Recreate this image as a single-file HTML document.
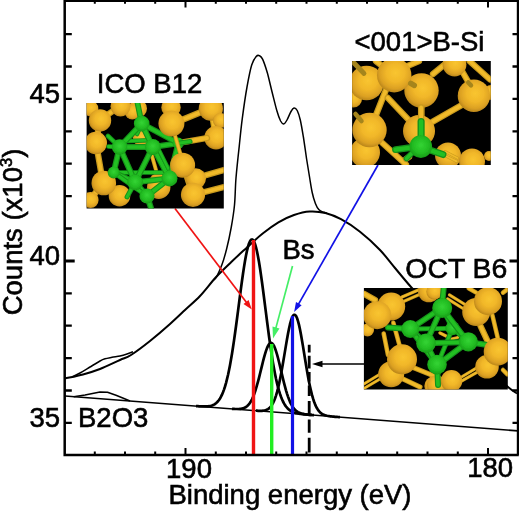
<!DOCTYPE html>
<html><head><meta charset="utf-8"><title>XPS B1s spectrum</title>
<style>html,body{margin:0;padding:0;background:#fff}svg{display:block}</style></head>
<body>
<svg width="520" height="511" viewBox="0 0 520 511" font-family="'Liberation Sans', sans-serif">
<defs>
<radialGradient id="gY" cx="0.54" cy="0.43" r="0.64">
<stop offset="0" stop-color="#f9c530"/><stop offset="0.42" stop-color="#f1b729"/><stop offset="0.72" stop-color="#dca123"/><stop offset="0.9" stop-color="#ba861b"/><stop offset="1" stop-color="#8c6611"/></radialGradient>
<radialGradient id="gG" cx="0.5" cy="0.44" r="0.64">
<stop offset="0" stop-color="#34d434"/><stop offset="0.55" stop-color="#22bc22"/><stop offset="0.88" stop-color="#179a17"/><stop offset="1" stop-color="#0d6a0d"/></radialGradient>
<radialGradient id="gG2" cx="0.42" cy="0.38" r="0.72">
<stop offset="0" stop-color="#3ad43a"/><stop offset="0.6" stop-color="#28bc28"/><stop offset="1" stop-color="#158015"/></radialGradient>
<filter id="blur" x="-5%" y="-5%" width="110%" height="110%"><feGaussianBlur stdDeviation="0.7"/></filter>
</defs>
<rect width="520" height="511" fill="#fff"/>
<path d="M65.0,396.0 L518.0,430.9" fill="none" stroke="#000" stroke-width="1.6"/>
<path d="M73.7,396.7 L85.0,394.9 L100.0,392.1 L107.5,392.3 L116.0,395.3 L124.0,398.5 L130.0,401.0" fill="none" stroke="#000" stroke-width="1.5" stroke-linejoin="round"/>
<path d="M65.0,378.5 C68.0,377.8 77.2,376.1 83.0,374.5 C88.8,372.9 93.8,371.4 100.0,369.0 C106.2,366.6 114.8,362.3 120.0,360.0 C125.2,357.7 126.0,358.2 131.0,355.0 C136.0,351.8 143.5,346.2 150.0,341.0 C156.5,335.8 164.2,329.2 170.0,324.0 C175.8,318.8 180.0,314.7 185.0,310.0 C190.0,305.3 194.9,301.4 200.0,296.0 C205.1,290.6 210.5,283.2 215.7,277.5 C220.9,271.8 226.1,267.0 231.3,262.0 C236.5,257.0 241.8,252.2 247.0,247.4 C252.2,242.7 257.5,237.7 262.7,233.5 C267.9,229.3 273.2,225.4 278.4,222.3 C283.6,219.2 288.8,216.8 294.0,215.0 C299.2,213.2 304.5,211.8 309.7,211.5 C314.9,211.2 320.2,211.7 325.4,213.0 C330.6,214.3 335.2,216.1 341.0,219.2 C346.8,222.3 353.5,226.6 360.0,231.7 C366.5,236.8 374.2,243.9 380.0,250.0 C385.8,256.1 389.8,261.8 395.0,268.0 C400.2,274.2 405.2,280.5 411.0,287.0 C416.8,293.5 423.5,300.2 430.0,307.0 C436.5,313.8 443.3,321.0 450.0,328.0 C456.7,335.0 463.3,342.1 470.0,349.0 C476.7,355.9 483.7,363.2 490.0,369.5 C496.3,375.8 503.5,383.0 508.0,387.0 C512.5,391.0 515.5,392.4 517.0,393.5" fill="none" stroke="#000" stroke-width="2"/>
<path d="M72.0,376.8 C73.3,376.2 77.0,374.6 80.0,373.0 C83.0,371.4 86.7,369.0 90.0,367.0 C93.3,365.0 97.5,362.4 100.0,361.0 C102.5,359.6 103.0,359.4 105.0,358.8 C107.0,358.2 109.5,357.8 112.0,357.3 C114.5,356.8 117.5,356.6 120.0,356.0 C122.5,355.4 124.8,354.7 127.0,354.0 C129.2,353.3 132.0,352.2 133.0,351.8" fill="none" stroke="#000" stroke-width="1.5"/>
<path d="M214.0,280.0 C214.5,279.3 215.9,278.2 217.2,275.6 C218.5,273.0 220.4,269.0 222.0,264.6 C223.6,260.2 225.0,255.3 226.6,249.0 C228.2,242.7 230.0,234.3 231.3,227.0 C232.6,219.7 233.7,213.2 234.5,205.0 C235.3,196.8 235.2,187.7 236.0,178.0 C236.8,168.3 238.1,156.5 239.2,146.6 C240.2,136.7 241.0,128.3 242.3,118.4 C243.6,108.5 245.4,95.9 247.0,87.0 C248.6,78.1 250.1,70.1 251.7,65.0 C253.3,59.9 255.1,57.8 256.4,56.3 C257.7,54.8 258.4,55.2 259.5,55.7 C260.6,56.2 261.4,56.5 262.7,59.4 C264.0,62.3 265.8,67.6 267.4,73.0 C268.9,78.4 270.4,85.5 272.0,91.7 C273.6,98.0 275.4,105.6 276.8,110.5 C278.2,115.4 279.5,118.8 280.6,121.0 C281.8,123.2 282.6,124.2 283.7,124.0 C284.8,123.8 285.8,122.1 287.0,120.0 C288.2,117.9 289.8,113.5 291.0,111.5 C292.2,109.5 293.0,108.2 294.0,108.0 C295.0,107.8 296.1,108.5 297.2,110.5 C298.2,112.5 299.3,115.6 300.3,120.0 C301.3,124.4 302.3,130.5 303.4,137.0 C304.4,143.5 305.6,152.2 306.6,159.0 C307.7,165.8 308.8,172.4 309.7,178.0 C310.6,183.6 311.2,188.2 312.2,192.5 C313.1,196.8 314.3,200.6 315.4,203.5 C316.5,206.4 317.6,208.3 319.0,209.8 C320.4,211.3 322.5,211.7 323.8,212.3 C325.1,212.9 326.5,213.1 327.0,213.3" fill="none" stroke="#000" stroke-width="1.5"/>
<path d="M196.0,406.1 L197.0,406.1 L198.0,406.2 L199.0,406.3 L200.0,406.3 L201.0,406.4 L202.0,406.4 L203.0,406.4 L204.0,406.4 L205.0,406.4 L206.0,406.4 L207.0,406.4 L208.0,406.3 L209.0,406.2 L210.0,406.0 L211.0,405.8 L212.0,405.5 L213.0,405.1 L214.0,404.6 L215.0,404.0 L216.0,403.2 L217.0,402.3 L218.0,401.3 L219.0,400.0 L220.0,398.5 L221.0,396.7 L222.0,394.7 L223.0,392.3 L224.0,389.6 L225.0,386.5 L226.0,383.1 L227.0,379.2 L228.0,375.0 L229.0,370.3 L230.0,365.2 L231.0,359.6 L232.0,353.7 L233.0,347.3 L234.0,340.6 L235.0,333.5 L236.0,326.2 L237.0,318.7 L238.0,311.1 L239.0,303.3 L240.0,295.7 L241.0,288.1 L242.0,280.7 L243.0,273.7 L244.0,267.1 L245.0,261.0 L246.0,255.5 L247.0,250.7 L248.0,246.7 L249.0,243.5 L250.0,241.2 L251.0,239.8 L252.0,239.4 L253.0,240.0 L254.0,241.5 L255.0,243.9 L256.0,247.3 L257.0,251.5 L258.0,256.4 L259.0,262.1 L260.0,268.3 L261.0,275.1 L262.0,282.3 L263.0,289.8 L264.0,297.5 L265.0,305.3 L266.0,313.2 L267.0,321.0 L268.0,328.7 L269.0,336.2 L270.0,343.4 L271.0,350.2 L272.0,356.7 L273.0,362.9 L274.0,368.6 L275.0,373.8 L276.0,378.7 L277.0,383.1 L278.0,387.1 L279.0,390.7 L280.0,393.9 L281.0,396.8 L282.0,399.3 L283.0,401.5 L284.0,403.4 L285.0,405.1 L286.0,406.5 L287.0,407.7 L288.0,408.8 L289.0,409.7 L290.0,410.4 L291.0,411.1 L292.0,411.6 L293.0,412.1 L294.0,412.5 L295.0,412.8 L296.0,413.1 L297.0,413.3 L298.0,413.5 L299.0,413.7 L300.0,413.8 L301.0,414.0 L302.0,414.1 L303.0,414.2 L304.0,414.3 L305.0,414.4 L306.0,414.5 L307.0,414.6 L308.0,414.7 L309.0,414.8 L310.0,414.9 L311.0,414.9 L312.0,415.0" fill="none" stroke="#000" stroke-width="2.7" stroke-linejoin="round"/>
<path d="M232.0,408.8 L233.0,408.9 L234.0,408.9 L235.0,409.0 L236.0,409.0 L237.0,409.0 L238.0,409.0 L239.0,409.0 L240.0,408.9 L241.0,408.8 L242.0,408.6 L243.0,408.4 L244.0,408.0 L245.0,407.6 L246.0,407.0 L247.0,406.2 L248.0,405.3 L249.0,404.2 L250.0,402.8 L251.0,401.2 L252.0,399.3 L253.0,397.1 L254.0,394.6 L255.0,391.8 L256.0,388.6 L257.0,385.2 L258.0,381.6 L259.0,377.8 L260.0,373.7 L261.0,369.7 L262.0,365.6 L263.0,361.5 L264.0,357.7 L265.0,354.1 L266.0,350.9 L267.0,348.1 L268.0,345.9 L269.0,344.2 L270.0,343.2 L271.0,342.9 L272.0,343.2 L273.0,344.3 L274.0,345.9 L275.0,348.2 L276.0,351.1 L277.0,354.3 L278.0,358.0 L279.0,362.0 L280.0,366.1 L281.0,370.4 L282.0,374.6 L283.0,378.8 L284.0,382.8 L285.0,386.7 L286.0,390.3 L287.0,393.6 L288.0,396.6 L289.0,399.3 L290.0,401.8 L291.0,403.9 L292.0,405.7 L293.0,407.3 L294.0,408.6 L295.0,409.7 L296.0,410.7 L297.0,411.5 L298.0,412.1 L299.0,412.6 L300.0,413.0 L301.0,413.4 L302.0,413.7 L303.0,413.9 L304.0,414.1 L305.0,414.3 L306.0,414.4 L307.0,414.5 L308.0,414.6 L309.0,414.7 L310.0,414.8 L311.0,414.9 L312.0,415.0 L313.0,415.1 L314.0,415.2" fill="none" stroke="#000" stroke-width="2.7" stroke-linejoin="round"/>
<path d="M256.0,410.7 L257.0,410.7 L258.0,410.8 L259.0,410.8 L260.0,410.8 L261.0,410.8 L262.0,410.8 L263.0,410.7 L264.0,410.5 L265.0,410.3 L266.0,410.0 L267.0,409.6 L268.0,409.1 L269.0,408.4 L270.0,407.4 L271.0,406.3 L272.0,404.8 L273.0,403.1 L274.0,401.0 L275.0,398.5 L276.0,395.6 L277.0,392.2 L278.0,388.4 L279.0,384.1 L280.0,379.4 L281.0,374.3 L282.0,368.8 L283.0,363.1 L284.0,357.1 L285.0,351.1 L286.0,345.1 L287.0,339.2 L288.0,333.7 L289.0,328.7 L290.0,324.2 L291.0,320.5 L292.0,317.6 L293.0,315.7 L294.0,314.8 L295.0,314.8 L296.0,315.9 L297.0,318.0 L298.0,321.1 L299.0,324.9 L300.0,329.5 L301.0,334.7 L302.0,340.4 L303.0,346.4 L304.0,352.5 L305.0,358.7 L306.0,364.8 L307.0,370.7 L308.0,376.4 L309.0,381.7 L310.0,386.5 L311.0,390.9 L312.0,394.9 L313.0,398.4 L314.0,401.5 L315.0,404.1 L316.0,406.4 L317.0,408.3 L318.0,409.9 L319.0,411.2 L320.0,412.3 L321.0,413.2 L322.0,413.9 L323.0,414.4 L324.0,414.9 L325.0,415.2 L326.0,415.5 L327.0,415.8 L328.0,416.0 L329.0,416.1 L330.0,416.3 L331.0,416.4 L332.0,416.5 L333.0,416.6 L334.0,416.7 L335.0,416.8 L336.0,416.9 L337.0,416.9 L338.0,417.0 L339.0,417.1 L340.0,417.2" fill="none" stroke="#000" stroke-width="2.7" stroke-linejoin="round"/>
<line x1="253.5" y1="240" x2="253.5" y2="455" stroke="#f01414" stroke-width="3.4"/>
<line x1="271.7" y1="344" x2="271.7" y2="455" stroke="#22ee22" stroke-width="3.4"/>
<line x1="292.5" y1="316" x2="292.5" y2="455" stroke="#1212e6" stroke-width="3.2"/>
<path d="M309.2,344.8V352.6M309.2,355.8V368.5M309.2,372V381.5M309.2,385.5V396M309.2,401V414.5M309.2,419.4V432.8M309.2,437.7V452.4" stroke="#000" stroke-width="2.8" fill="none"/>
<line x1="175.0" y1="208.5" x2="247.3" y2="303.6" stroke="#f01414" stroke-width="1.7"/>
<polygon points="251.8,309.6 243.5,304.0 248.6,300.1" fill="#f01414"/>
<line x1="292.5" y1="266.0" x2="275.5" y2="329.4" stroke="#44ee66" stroke-width="1.7"/>
<polygon points="273.0,338.6 272.5,326.6 279.5,328.4" fill="#44ee66"/>
<line x1="378.0" y1="165.0" x2="297.8" y2="305.4" stroke="#1212e6" stroke-width="1.7"/>
<polygon points="294.1,311.9 296.0,302.1 301.6,305.2" fill="#1212e6"/>
<line x1="364.0" y1="364.0" x2="320.5" y2="364.0" stroke="#000" stroke-width="1.4"/>
<polygon points="312.0,364.0 322.5,360.8 322.5,367.2" fill="#000"/>
<svg x="86.6" y="103" width="137.2" height="105.6" viewBox="86.6 103 137.2 105.6" overflow="hidden">
<rect x="85.6" y="102" width="139.2" height="107.6" fill="#000"/>
<g filter="url(#blur)" stroke-linecap="round">
<line x1="100.0" y1="120.0" x2="120.0" y2="106.0" stroke="#c99a1e" stroke-width="6.272"/>
<line x1="100.0" y1="120.0" x2="120.0" y2="106.0" stroke="#f0ba2a" stroke-width="3.808"/>
<line x1="96.0" y1="143.0" x2="100.0" y2="120.0" stroke="#c99a1e" stroke-width="6.272"/>
<line x1="96.0" y1="143.0" x2="100.0" y2="120.0" stroke="#f0ba2a" stroke-width="3.808"/>
<line x1="96.0" y1="143.0" x2="103.0" y2="183.0" stroke="#c99a1e" stroke-width="6.272"/>
<line x1="96.0" y1="143.0" x2="103.0" y2="183.0" stroke="#f0ba2a" stroke-width="3.808"/>
<line x1="103.0" y1="183.0" x2="90.0" y2="200.0" stroke="#c99a1e" stroke-width="6.272"/>
<line x1="103.0" y1="183.0" x2="90.0" y2="200.0" stroke="#f0ba2a" stroke-width="3.808"/>
<line x1="103.0" y1="183.0" x2="119.0" y2="196.0" stroke="#c99a1e" stroke-width="6.272"/>
<line x1="103.0" y1="183.0" x2="119.0" y2="196.0" stroke="#f0ba2a" stroke-width="3.808"/>
<line x1="172.0" y1="124.0" x2="211.0" y2="108.0" stroke="#c99a1e" stroke-width="6.272"/>
<line x1="172.0" y1="124.0" x2="211.0" y2="108.0" stroke="#f0ba2a" stroke-width="3.808"/>
<line x1="216.0" y1="138.0" x2="211.0" y2="108.0" stroke="#c99a1e" stroke-width="6.272"/>
<line x1="216.0" y1="138.0" x2="211.0" y2="108.0" stroke="#f0ba2a" stroke-width="3.808"/>
<line x1="196.0" y1="178.0" x2="224.0" y2="170.0" stroke="#c99a1e" stroke-width="6.272"/>
<line x1="196.0" y1="178.0" x2="224.0" y2="170.0" stroke="#f0ba2a" stroke-width="3.808"/>
<line x1="193.0" y1="195.0" x2="224.0" y2="187.0" stroke="#c99a1e" stroke-width="6.272"/>
<line x1="193.0" y1="195.0" x2="224.0" y2="187.0" stroke="#f0ba2a" stroke-width="3.808"/>
<line x1="183.0" y1="165.0" x2="193.0" y2="195.0" stroke="#c99a1e" stroke-width="6.272"/>
<line x1="183.0" y1="165.0" x2="193.0" y2="195.0" stroke="#f0ba2a" stroke-width="3.808"/>
<line x1="160.0" y1="186.0" x2="183.0" y2="165.0" stroke="#c99a1e" stroke-width="6.272"/>
<line x1="160.0" y1="186.0" x2="183.0" y2="165.0" stroke="#f0ba2a" stroke-width="3.808"/>
<line x1="171.0" y1="108.0" x2="172.0" y2="124.0" stroke="#c99a1e" stroke-width="6.272"/>
<line x1="171.0" y1="108.0" x2="172.0" y2="124.0" stroke="#f0ba2a" stroke-width="3.808"/>
<circle cx="90.5" cy="108.6" r="7.8" fill="url(#gY)"/>
<circle cx="137.8" cy="108.6" r="9.2" fill="url(#gY)"/>
<circle cx="132.3" cy="111.8" r="7.6" fill="url(#gY)"/>
<circle cx="120.5" cy="106.5" r="10.0" fill="url(#gY)"/>
<circle cx="100.0" cy="120.4" r="11.2" fill="url(#gY)"/>
<circle cx="95.8" cy="143.0" r="11.2" fill="url(#gY)"/>
<circle cx="171.0" cy="107.5" r="9.7" fill="url(#gY)"/>
<circle cx="210.8" cy="108.6" r="12.1" fill="url(#gY)"/>
<circle cx="220.5" cy="120.5" r="7.6" fill="url(#gY)"/>
<circle cx="216.0" cy="137.7" r="11.7" fill="url(#gY)"/>
<circle cx="90.5" cy="200.0" r="8.1" fill="url(#gY)"/>
<circle cx="119.5" cy="195.7" r="10.8" fill="url(#gY)"/>
<circle cx="103.8" cy="183.0" r="12.3" fill="url(#gY)"/>
<circle cx="141.0" cy="138.0" r="8.1" fill="url(#gY)"/>
<circle cx="158.0" cy="181.7" r="8.6" fill="url(#gY)"/>
<circle cx="158.7" cy="187.2" r="11.7" fill="url(#gY)"/>
<circle cx="195.7" cy="178.6" r="10.3" fill="url(#gY)"/>
<circle cx="193.0" cy="194.8" r="12.1" fill="url(#gY)"/>
<line x1="152.0" y1="156.0" x2="156.0" y2="170.0" stroke="#c99a1e" stroke-width="3.92"/>
<line x1="152.0" y1="156.0" x2="156.0" y2="170.0" stroke="#f0ba2a" stroke-width="2.38"/>
<line x1="178.5" y1="143.0" x2="207.0" y2="138.0" stroke="#c99a1e" stroke-width="6.272"/>
<line x1="178.5" y1="143.0" x2="207.0" y2="138.0" stroke="#f0ba2a" stroke-width="3.808"/>
<line x1="124.5" y1="141.2" x2="149.9" y2="140.2" stroke="#14921a" stroke-width="4.6"/>
<line x1="124.5" y1="141.2" x2="149.9" y2="140.2" stroke="#24c024" stroke-width="2.8"/>
<line x1="114.7" y1="172.5" x2="168.5" y2="172.5" stroke="#14921a" stroke-width="4.6"/>
<line x1="114.7" y1="172.5" x2="168.5" y2="172.5" stroke="#24c024" stroke-width="2.8"/>
<line x1="141.7" y1="123.6" x2="137.0" y2="134.0" stroke="#14921a" stroke-width="4.6"/>
<line x1="141.7" y1="123.6" x2="137.0" y2="134.0" stroke="#24c024" stroke-width="2.8"/>
<line x1="141.7" y1="123.6" x2="137.5" y2="103.0" stroke="#14921a" stroke-width="5.75"/>
<line x1="141.7" y1="123.6" x2="137.5" y2="103.0" stroke="#24c024" stroke-width="3.5"/>
<line x1="119.6" y1="147.0" x2="108.0" y2="136.0" stroke="#14921a" stroke-width="4.83"/>
<line x1="119.6" y1="147.0" x2="108.0" y2="136.0" stroke="#24c024" stroke-width="2.94"/>
<line x1="119.6" y1="147.0" x2="108.5" y2="146.5" stroke="#14921a" stroke-width="4.6"/>
<line x1="119.6" y1="147.0" x2="108.5" y2="146.5" stroke="#24c024" stroke-width="2.8"/>
<line x1="152.8" y1="147.0" x2="178.3" y2="143.2" stroke="#14921a" stroke-width="5.98"/>
<line x1="152.8" y1="147.0" x2="178.3" y2="143.2" stroke="#24c024" stroke-width="3.64"/>
<line x1="141.7" y1="123.6" x2="178.3" y2="143.2" stroke="#14921a" stroke-width="5.98"/>
<line x1="141.7" y1="123.6" x2="178.3" y2="143.2" stroke="#24c024" stroke-width="3.64"/>
<line x1="141.7" y1="123.6" x2="119.6" y2="147.0" stroke="#14921a" stroke-width="5.98"/>
<line x1="141.7" y1="123.6" x2="119.6" y2="147.0" stroke="#24c024" stroke-width="3.64"/>
<line x1="141.7" y1="123.6" x2="152.8" y2="147.0" stroke="#14921a" stroke-width="5.98"/>
<line x1="141.7" y1="123.6" x2="152.8" y2="147.0" stroke="#24c024" stroke-width="3.64"/>
<line x1="119.6" y1="147.0" x2="152.8" y2="147.0" stroke="#14921a" stroke-width="5.98"/>
<line x1="119.6" y1="147.0" x2="152.8" y2="147.0" stroke="#24c024" stroke-width="3.64"/>
<line x1="119.6" y1="147.0" x2="113.7" y2="172.5" stroke="#14921a" stroke-width="5.98"/>
<line x1="119.6" y1="147.0" x2="113.7" y2="172.5" stroke="#24c024" stroke-width="3.64"/>
<line x1="119.6" y1="147.0" x2="135.2" y2="182.3" stroke="#14921a" stroke-width="5.98"/>
<line x1="119.6" y1="147.0" x2="135.2" y2="182.3" stroke="#24c024" stroke-width="3.64"/>
<line x1="152.8" y1="147.0" x2="135.2" y2="182.3" stroke="#14921a" stroke-width="5.98"/>
<line x1="152.8" y1="147.0" x2="135.2" y2="182.3" stroke="#24c024" stroke-width="3.64"/>
<line x1="152.8" y1="147.0" x2="169.5" y2="178.4" stroke="#14921a" stroke-width="5.98"/>
<line x1="152.8" y1="147.0" x2="169.5" y2="178.4" stroke="#24c024" stroke-width="3.64"/>
<line x1="156.5" y1="145.0" x2="172.0" y2="176.0" stroke="#14921a" stroke-width="4.025"/>
<line x1="156.5" y1="145.0" x2="172.0" y2="176.0" stroke="#24c024" stroke-width="2.45"/>
<line x1="178.3" y1="143.2" x2="169.5" y2="178.4" stroke="#14921a" stroke-width="5.98"/>
<line x1="178.3" y1="143.2" x2="169.5" y2="178.4" stroke="#24c024" stroke-width="3.64"/>
<line x1="113.7" y1="172.5" x2="135.2" y2="182.3" stroke="#14921a" stroke-width="5.98"/>
<line x1="113.7" y1="172.5" x2="135.2" y2="182.3" stroke="#24c024" stroke-width="3.64"/>
<line x1="135.2" y1="182.3" x2="169.5" y2="178.4" stroke="#14921a" stroke-width="5.98"/>
<line x1="135.2" y1="182.3" x2="169.5" y2="178.4" stroke="#24c024" stroke-width="3.64"/>
<line x1="135.2" y1="182.3" x2="147.0" y2="196.0" stroke="#14921a" stroke-width="5.98"/>
<line x1="135.2" y1="182.3" x2="147.0" y2="196.0" stroke="#24c024" stroke-width="3.64"/>
<line x1="169.5" y1="178.4" x2="147.0" y2="196.0" stroke="#14921a" stroke-width="5.98"/>
<line x1="169.5" y1="178.4" x2="147.0" y2="196.0" stroke="#24c024" stroke-width="3.64"/>
<line x1="113.7" y1="172.5" x2="147.0" y2="196.0" stroke="#14921a" stroke-width="4.83"/>
<line x1="113.7" y1="172.5" x2="147.0" y2="196.0" stroke="#24c024" stroke-width="2.94"/>
<line x1="147.0" y1="196.0" x2="151.0" y2="208.0" stroke="#14921a" stroke-width="5.98"/>
<line x1="147.0" y1="196.0" x2="151.0" y2="208.0" stroke="#24c024" stroke-width="3.64"/>
<line x1="135.2" y1="182.3" x2="127.0" y2="197.0" stroke="#14921a" stroke-width="4.83"/>
<line x1="135.2" y1="182.3" x2="127.0" y2="197.0" stroke="#24c024" stroke-width="2.94"/>
<circle cx="178.3" cy="143.2" r="5.6" fill="url(#gG)"/>
<line x1="178.3" y1="143.2" x2="190.0" y2="141.5" stroke="#14921a" stroke-width="5.175"/>
<line x1="178.3" y1="143.2" x2="190.0" y2="141.5" stroke="#24c024" stroke-width="3.15"/>
<line x1="174.0" y1="132.0" x2="181.0" y2="156.0" stroke="#c99a1e" stroke-width="4.032"/>
<line x1="174.0" y1="132.0" x2="181.0" y2="156.0" stroke="#f0ba2a" stroke-width="2.448"/>
<circle cx="171.4" cy="123.6" r="13.0" fill="url(#gY)"/>
<circle cx="182.6" cy="165.2" r="12.5" fill="url(#gY)"/>
<circle cx="141.7" cy="123.6" r="7.8" fill="url(#gG)"/>
<circle cx="119.6" cy="147.0" r="7.8" fill="url(#gG)"/>
<circle cx="152.8" cy="147.0" r="8.0" fill="url(#gG)"/>
<circle cx="113.7" cy="172.5" r="6.0" fill="url(#gG)"/>
<circle cx="135.2" cy="182.3" r="8.0" fill="url(#gG)"/>
<circle cx="169.5" cy="178.4" r="8.0" fill="url(#gG)"/>
<circle cx="147.0" cy="196.0" r="7.6" fill="url(#gG)"/>
</g></svg>
<svg x="352.1" y="61" width="138.7" height="103.9" viewBox="352.1 61 138.7 103.9" overflow="hidden">
<rect x="351.1" y="60" width="140.7" height="105.9" fill="#000"/>
<g filter="url(#blur)" stroke-linecap="round">
<line x1="386.7" y1="88.0" x2="376.0" y2="115.0" stroke="#c99a1e" stroke-width="6.272"/>
<line x1="386.7" y1="88.0" x2="376.0" y2="115.0" stroke="#f0ba2a" stroke-width="3.808"/>
<line x1="387.8" y1="97.8" x2="408.2" y2="119.3" stroke="#c99a1e" stroke-width="6.272"/>
<line x1="387.8" y1="97.8" x2="408.2" y2="119.3" stroke="#f0ba2a" stroke-width="3.808"/>
<line x1="433.0" y1="121.5" x2="461.0" y2="105.5" stroke="#c99a1e" stroke-width="6.272"/>
<line x1="433.0" y1="121.5" x2="461.0" y2="105.5" stroke="#f0ba2a" stroke-width="3.808"/>
<line x1="382.4" y1="143.0" x2="406.0" y2="164.5" stroke="#c99a1e" stroke-width="6.272"/>
<line x1="382.4" y1="143.0" x2="406.0" y2="164.5" stroke="#f0ba2a" stroke-width="3.808"/>
<line x1="469.6" y1="61.2" x2="490.0" y2="79.5" stroke="#c99a1e" stroke-width="6.272"/>
<line x1="469.6" y1="61.2" x2="490.0" y2="79.5" stroke="#f0ba2a" stroke-width="3.808"/>
<line x1="433.0" y1="74.0" x2="445.9" y2="63.4" stroke="#c99a1e" stroke-width="6.272"/>
<line x1="433.0" y1="74.0" x2="445.9" y2="63.4" stroke="#f0ba2a" stroke-width="3.808"/>
<line x1="462.0" y1="71.0" x2="470.6" y2="86.0" stroke="#c99a1e" stroke-width="6.272"/>
<line x1="462.0" y1="71.0" x2="470.6" y2="86.0" stroke="#f0ba2a" stroke-width="3.808"/>
<line x1="421.4" y1="89.6" x2="421.4" y2="130.0" stroke="#c99a1e" stroke-width="6.272"/>
<line x1="421.4" y1="89.6" x2="421.4" y2="130.0" stroke="#f0ba2a" stroke-width="3.808"/>
<line x1="406.0" y1="66.6" x2="419.0" y2="61.2" stroke="#c99a1e" stroke-width="6.272"/>
<line x1="406.0" y1="66.6" x2="419.0" y2="61.2" stroke="#f0ba2a" stroke-width="3.808"/>
<line x1="376.0" y1="61.2" x2="380.3" y2="64.5" stroke="#c99a1e" stroke-width="6.272"/>
<line x1="376.0" y1="61.2" x2="380.3" y2="64.5" stroke="#f0ba2a" stroke-width="3.808"/>
<circle cx="353.4" cy="98.9" r="8.6" fill="url(#gY)"/>
<circle cx="454.5" cy="64.5" r="11.9" fill="url(#gY)"/>
<circle cx="491.0" cy="92.5" r="7.5" fill="url(#gY)"/>
<circle cx="365.0" cy="152.6" r="15.0" fill="url(#gY)"/>
<circle cx="366.5" cy="83.0" r="17.3" fill="url(#gY)"/>
<line x1="354.0" y1="63.0" x2="364.0" y2="73.5" stroke="#a5851c" stroke-width="4.8"/>
<circle cx="421.5" cy="90.5" r="17.2" fill="url(#gY)"/>
<circle cx="394.2" cy="75.2" r="17.2" fill="url(#gY)"/>
<circle cx="473.9" cy="95.7" r="16.2" fill="url(#gY)"/>
<line x1="468.2" y1="82.5" x2="471.0" y2="85.3" stroke="#a5851c" stroke-width="4.5"/>
<line x1="410.8" y1="83.4" x2="414.2" y2="85.4" stroke="#a5851c" stroke-width="5.6"/>
<circle cx="369.5" cy="130.0" r="17.2" fill="url(#gY)"/>
<line x1="355.5" y1="114.0" x2="361.5" y2="121.0" stroke="#a5851c" stroke-width="4.5"/>
<circle cx="419.0" cy="131.0" r="16.0" fill="url(#gY)"/>
<circle cx="448.0" cy="155.5" r="13.0" fill="url(#gY)"/>
<circle cx="472.0" cy="161.5" r="13.0" fill="url(#gY)"/>
<circle cx="489.0" cy="156.0" r="5.0" fill="url(#gY)"/>
<line x1="421.1" y1="107.5" x2="421.1" y2="120.4" stroke="#c99a1e" stroke-width="6.272"/>
<line x1="421.1" y1="107.5" x2="421.1" y2="120.4" stroke="#f0ba2a" stroke-width="3.808"/>
<line x1="443.7" y1="155.0" x2="456.6" y2="161.4" stroke="#c99a1e" stroke-width="2.912"/>
<line x1="443.7" y1="155.0" x2="456.6" y2="161.4" stroke="#f0ba2a" stroke-width="1.768"/>
<line x1="445.0" y1="151.5" x2="457.5" y2="158.0" stroke="#c99a1e" stroke-width="2.912"/>
<line x1="445.0" y1="151.5" x2="457.5" y2="158.0" stroke="#f0ba2a" stroke-width="1.768"/>
<line x1="406.0" y1="159.0" x2="409.0" y2="157.0" stroke="#c99a1e" stroke-width="6.272"/>
<line x1="406.0" y1="159.0" x2="409.0" y2="157.0" stroke="#f0ba2a" stroke-width="3.808"/>
<line x1="421.1" y1="142.0" x2="421.1" y2="121.5" stroke="#14921a" stroke-width="7.13"/>
<line x1="421.1" y1="142.0" x2="421.1" y2="121.5" stroke="#24c024" stroke-width="4.34"/>
<line x1="419.0" y1="146.5" x2="395.5" y2="149.6" stroke="#14921a" stroke-width="6.9"/>
<line x1="419.0" y1="146.5" x2="395.5" y2="149.6" stroke="#24c024" stroke-width="4.2"/>
<line x1="421.0" y1="147.0" x2="443.0" y2="154.6" stroke="#14921a" stroke-width="6.9"/>
<line x1="421.0" y1="147.0" x2="443.0" y2="154.6" stroke="#24c024" stroke-width="4.2"/>
<line x1="414.6" y1="150.5" x2="406.5" y2="158.5" stroke="#14921a" stroke-width="5.75"/>
<line x1="414.6" y1="150.5" x2="406.5" y2="158.5" stroke="#24c024" stroke-width="3.5"/>
<circle cx="420.8" cy="146.6" r="11.3" fill="url(#gG)"/>
</g></svg>
<svg x="363.9" y="288.1" width="143.9" height="101.3" viewBox="363.9 288.1 143.9 101.3" overflow="hidden">
<rect x="362.9" y="287.1" width="145.9" height="103.3" fill="#000"/>
<g filter="url(#blur)" stroke-linecap="round">
<line x1="363.9" y1="384.0" x2="390.0" y2="368.0" stroke="#c99a1e" stroke-width="3.136"/>
<line x1="363.9" y1="384.0" x2="390.0" y2="368.0" stroke="#f0ba2a" stroke-width="1.904"/>
<line x1="363.9" y1="388.5" x2="391.0" y2="372.5" stroke="#c99a1e" stroke-width="3.136"/>
<line x1="363.9" y1="388.5" x2="391.0" y2="372.5" stroke="#f0ba2a" stroke-width="1.904"/>
<line x1="403.0" y1="379.0" x2="420.0" y2="387.0" stroke="#c99a1e" stroke-width="5.04"/>
<line x1="403.0" y1="379.0" x2="420.0" y2="387.0" stroke="#f0ba2a" stroke-width="3.06"/>
<line x1="411.6" y1="366.8" x2="435.3" y2="376.5" stroke="#c99a1e" stroke-width="5.04"/>
<line x1="411.6" y1="366.8" x2="435.3" y2="376.5" stroke="#f0ba2a" stroke-width="3.06"/>
<line x1="402.0" y1="297.0" x2="422.4" y2="288.3" stroke="#c99a1e" stroke-width="3.136"/>
<line x1="402.0" y1="297.0" x2="422.4" y2="288.3" stroke="#f0ba2a" stroke-width="1.904"/>
<line x1="403.5" y1="301.5" x2="424.0" y2="292.5" stroke="#c99a1e" stroke-width="3.136"/>
<line x1="403.5" y1="301.5" x2="424.0" y2="292.5" stroke="#f0ba2a" stroke-width="1.904"/>
<line x1="363.9" y1="293.7" x2="375.0" y2="300.0" stroke="#c99a1e" stroke-width="6.272"/>
<line x1="363.9" y1="293.7" x2="375.0" y2="300.0" stroke="#f0ba2a" stroke-width="3.808"/>
<line x1="383.7" y1="333.5" x2="388.0" y2="355.0" stroke="#c99a1e" stroke-width="4.48"/>
<line x1="383.7" y1="333.5" x2="388.0" y2="355.0" stroke="#f0ba2a" stroke-width="2.72"/>
<line x1="393.3" y1="322.7" x2="399.8" y2="346.4" stroke="#c99a1e" stroke-width="4.48"/>
<line x1="393.3" y1="322.7" x2="399.8" y2="346.4" stroke="#f0ba2a" stroke-width="2.72"/>
<line x1="449.4" y1="294.8" x2="466.6" y2="305.5" stroke="#c99a1e" stroke-width="3.136"/>
<line x1="449.4" y1="294.8" x2="466.6" y2="305.5" stroke="#f0ba2a" stroke-width="1.904"/>
<line x1="447.6" y1="298.8" x2="464.6" y2="309.5" stroke="#c99a1e" stroke-width="3.136"/>
<line x1="447.6" y1="298.8" x2="464.6" y2="309.5" stroke="#f0ba2a" stroke-width="1.904"/>
<line x1="468.7" y1="288.3" x2="476.2" y2="292.6" stroke="#c99a1e" stroke-width="4.48"/>
<line x1="468.7" y1="288.3" x2="476.2" y2="292.6" stroke="#f0ba2a" stroke-width="2.72"/>
<line x1="462.3" y1="376.5" x2="483.8" y2="363.6" stroke="#c99a1e" stroke-width="3.136"/>
<line x1="462.3" y1="376.5" x2="483.8" y2="363.6" stroke="#f0ba2a" stroke-width="1.904"/>
<line x1="460.1" y1="381.8" x2="477.3" y2="372.2" stroke="#c99a1e" stroke-width="3.136"/>
<line x1="460.1" y1="381.8" x2="477.3" y2="372.2" stroke="#f0ba2a" stroke-width="1.904"/>
<line x1="492.4" y1="315.2" x2="497.7" y2="337.8" stroke="#c99a1e" stroke-width="4.48"/>
<line x1="492.4" y1="315.2" x2="497.7" y2="337.8" stroke="#f0ba2a" stroke-width="2.72"/>
<line x1="480.5" y1="326.0" x2="488.0" y2="342.0" stroke="#c99a1e" stroke-width="6.272"/>
<line x1="480.5" y1="326.0" x2="488.0" y2="342.0" stroke="#f0ba2a" stroke-width="3.808"/>
<line x1="503.0" y1="292.6" x2="507.4" y2="289.4" stroke="#c99a1e" stroke-width="4.48"/>
<line x1="503.0" y1="292.6" x2="507.4" y2="289.4" stroke="#f0ba2a" stroke-width="2.72"/>
<line x1="503.0" y1="370.0" x2="507.4" y2="374.3" stroke="#c99a1e" stroke-width="4.48"/>
<line x1="503.0" y1="370.0" x2="507.4" y2="374.3" stroke="#f0ba2a" stroke-width="2.72"/>
<circle cx="367.5" cy="330.0" r="6.5" fill="url(#gY)"/>
<circle cx="428.8" cy="291.5" r="10.8" fill="url(#gY)"/>
<circle cx="434.3" cy="291.5" r="8.0" fill="url(#gY)"/>
<circle cx="391.2" cy="374.3" r="13.0" fill="url(#gY)"/>
<circle cx="391.2" cy="306.6" r="14.0" fill="url(#gY)"/>
<circle cx="476.2" cy="312.0" r="14.0" fill="url(#gY)"/>
<circle cx="487.0" cy="366.8" r="11.8" fill="url(#gY)"/>
<circle cx="434.0" cy="386.0" r="9.7" fill="url(#gY)"/>
<circle cx="436.5" cy="385.0" r="9.7" fill="url(#gY)"/>
<circle cx="451.5" cy="380.8" r="10.8" fill="url(#gY)"/>
<line x1="440.0" y1="333.0" x2="446.0" y2="336.0" stroke="#c99a1e" stroke-width="3.36"/>
<line x1="440.0" y1="333.0" x2="446.0" y2="336.0" stroke="#f0ba2a" stroke-width="2.04"/>
<line x1="451.5" y1="339.0" x2="458.0" y2="337.4" stroke="#c99a1e" stroke-width="2.912"/>
<line x1="451.5" y1="339.0" x2="458.0" y2="337.4" stroke="#f0ba2a" stroke-width="1.768"/>
<line x1="441.8" y1="307.7" x2="443.9" y2="286.0" stroke="#14921a" stroke-width="5.98"/>
<line x1="441.8" y1="307.7" x2="443.9" y2="286.0" stroke="#24c024" stroke-width="3.64"/>
<line x1="410.3" y1="329.0" x2="388.0" y2="327.5" stroke="#14921a" stroke-width="5.98"/>
<line x1="410.3" y1="329.0" x2="388.0" y2="327.5" stroke="#24c024" stroke-width="3.64"/>
<line x1="468.0" y1="342.0" x2="489.0" y2="345.3" stroke="#14921a" stroke-width="5.98"/>
<line x1="468.0" y1="342.0" x2="489.0" y2="345.3" stroke="#24c024" stroke-width="3.64"/>
<line x1="437.2" y1="365.0" x2="438.0" y2="385.0" stroke="#14921a" stroke-width="5.98"/>
<line x1="437.2" y1="365.0" x2="438.0" y2="385.0" stroke="#24c024" stroke-width="3.64"/>
<line x1="452.5" y1="328.3" x2="441.8" y2="307.7" stroke="#14921a" stroke-width="4.83"/>
<line x1="452.5" y1="328.3" x2="441.8" y2="307.7" stroke="#24c024" stroke-width="2.94"/>
<line x1="452.5" y1="328.3" x2="410.3" y2="329.0" stroke="#14921a" stroke-width="4.83"/>
<line x1="452.5" y1="328.3" x2="410.3" y2="329.0" stroke="#24c024" stroke-width="2.94"/>
<line x1="452.5" y1="328.3" x2="468.0" y2="342.0" stroke="#14921a" stroke-width="4.83"/>
<line x1="452.5" y1="328.3" x2="468.0" y2="342.0" stroke="#24c024" stroke-width="2.94"/>
<line x1="452.5" y1="328.3" x2="437.2" y2="365.0" stroke="#14921a" stroke-width="4.83"/>
<line x1="452.5" y1="328.3" x2="437.2" y2="365.0" stroke="#24c024" stroke-width="2.94"/>
<circle cx="452.5" cy="328.3" r="7.0" fill="url(#gG)"/>
<circle cx="377.2" cy="315.2" r="14.0" fill="url(#gY)"/>
<circle cx="402.0" cy="359.3" r="15.0" fill="url(#gY)"/>
<circle cx="488.0" cy="301.2" r="14.0" fill="url(#gY)"/>
<circle cx="497.7" cy="351.7" r="14.0" fill="url(#gY)"/>
<line x1="441.8" y1="307.7" x2="410.3" y2="329.0" stroke="#14921a" stroke-width="5.98"/>
<line x1="441.8" y1="307.7" x2="410.3" y2="329.0" stroke="#24c024" stroke-width="3.64"/>
<line x1="441.8" y1="307.7" x2="426.0" y2="343.3" stroke="#14921a" stroke-width="5.98"/>
<line x1="441.8" y1="307.7" x2="426.0" y2="343.3" stroke="#24c024" stroke-width="3.64"/>
<line x1="441.8" y1="307.7" x2="468.0" y2="342.0" stroke="#14921a" stroke-width="5.98"/>
<line x1="441.8" y1="307.7" x2="468.0" y2="342.0" stroke="#24c024" stroke-width="3.64"/>
<line x1="410.3" y1="329.0" x2="426.0" y2="343.3" stroke="#14921a" stroke-width="5.98"/>
<line x1="410.3" y1="329.0" x2="426.0" y2="343.3" stroke="#24c024" stroke-width="3.64"/>
<line x1="410.3" y1="329.0" x2="437.2" y2="365.0" stroke="#14921a" stroke-width="5.98"/>
<line x1="410.3" y1="329.0" x2="437.2" y2="365.0" stroke="#24c024" stroke-width="3.64"/>
<line x1="426.0" y1="343.3" x2="468.0" y2="342.0" stroke="#14921a" stroke-width="5.98"/>
<line x1="426.0" y1="343.3" x2="468.0" y2="342.0" stroke="#24c024" stroke-width="3.64"/>
<line x1="426.0" y1="343.3" x2="437.2" y2="365.0" stroke="#14921a" stroke-width="5.98"/>
<line x1="426.0" y1="343.3" x2="437.2" y2="365.0" stroke="#24c024" stroke-width="3.64"/>
<line x1="468.0" y1="342.0" x2="437.2" y2="365.0" stroke="#14921a" stroke-width="5.98"/>
<line x1="468.0" y1="342.0" x2="437.2" y2="365.0" stroke="#24c024" stroke-width="3.64"/>
<circle cx="442.2" cy="308.0" r="10.0" fill="url(#gG)"/>
<circle cx="410.3" cy="329.0" r="9.0" fill="url(#gG)"/>
<circle cx="468.3" cy="341.8" r="9.6" fill="url(#gG)"/>
<circle cx="437.0" cy="364.6" r="9.8" fill="url(#gG)"/>
<circle cx="426.0" cy="343.3" r="9.8" fill="url(#gG)"/>
</g></svg>
<g stroke="#000" fill="none">
<path d="M64.7,0V455H518.8" stroke-width="2.5"/>
<path d="M517.9,0V455" stroke-width="2.2"/>
<path d="M64,0.9H519" stroke-width="2.2"/>
<path d="M65,422.9h6.8M518,422.9h-5.5M65,390.5h6.8M518,390.5h-5.5M65,358.1h6.8M518,358.1h-5.5M65,325.7h6.8M518,325.7h-5.5M65,293.3h6.8M518,293.3h-5.5M65,228.5h6.8M518,228.5h-5.5M65,196.1h6.8M518,196.1h-5.5M65,163.7h6.8M518,163.7h-5.5M65,131.3h6.8M518,131.3h-5.5M65,98.9h6.8M518,98.9h-5.5M65,66.5h6.8M518,66.5h-5.5M65,34.1h6.8M518,34.1h-5.5" stroke-width="2.3"/>
<path d="M65,261h9.7M518,261h-8.5" stroke-width="3.2"/>
<path d="M488.0,455v-7.0M488.0,0v7.5M457.8,455v-3.6M457.8,0v3.8M427.5,455v-3.6M427.5,0v3.8M397.2,455v-3.6M397.2,0v3.8M367.0,455v-3.6M367.0,0v3.8M336.8,455v-3.6M336.8,0v3.8M306.5,455v-3.6M306.5,0v3.8M276.2,455v-3.6M276.2,0v3.8M246.0,455v-3.6M246.0,0v3.8M215.8,455v-3.6M215.8,0v3.8M185.5,455v-7.0M185.5,0v7.5M155.2,455v-3.6M155.2,0v3.8M125.0,455v-3.6M125.0,0v3.8M94.8,455v-3.6M94.8,0v3.8" stroke-width="2"/>
</g>
<g font-size="27.5" fill="#000" stroke="#000" stroke-width="0.6">
<text x="60" y="102.6" text-anchor="end">45</text>
<text x="60" y="264.6" text-anchor="end">40</text>
<text x="60" y="426.8" text-anchor="end">35</text>
<text x="189" y="477.6" text-anchor="middle">190</text>
<text x="490.2" y="477.3" text-anchor="middle">180</text>
<text x="290" y="503.5" text-anchor="middle">Binding energy (eV)</text>
<text transform="translate(21.5,232) rotate(-90)" text-anchor="middle">Counts (x10<tspan font-size="16.5" dy="-9.5">3</tspan><tspan dy="9.5">)</tspan></text>
<text x="96.8" y="92.5">ICO B12</text>
<text x="354.5" y="50.8">&lt;001&gt;B-Si</text>
<text x="405.3" y="278" font-size="28.4">OCT B6</text>
<text x="78" y="426.7">B2O3</text>
<text x="282.5" y="259">Bs</text>
</g>
</svg>
</body></html>
